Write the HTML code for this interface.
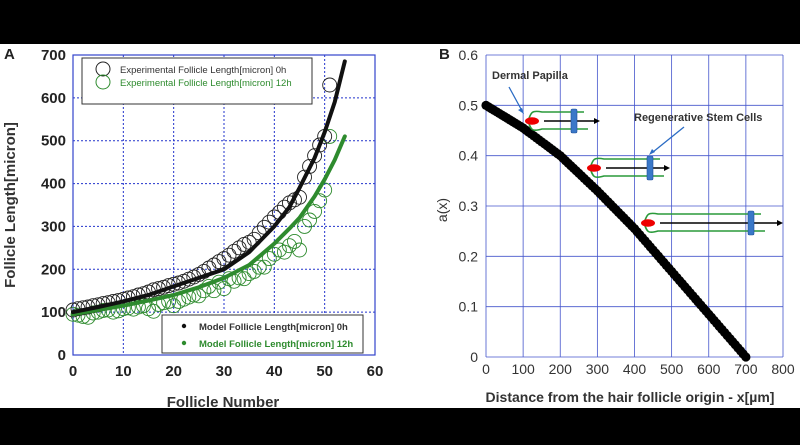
<!DOCTYPE html>
<html><head><meta charset="utf-8"><style>
html,body{margin:0;padding:0;background:#000;}
svg{display:block;font-family:"Liberation Sans",Arial,sans-serif;}
</style></head><body>
<svg id="fig" width="800" height="445" viewBox="0 0 800 445">
<rect x="0" y="0" width="800" height="445" fill="#000"/>
<rect x="0" y="44" width="800" height="364" fill="#fff"/>
<g id="A"></g>
<g id="B"></g>
</svg>
<script>
// Panel A data
const aXTicks=[0,10,20,30,40,50,60];
const aYTicks=[0,100,200,300,400,500,600,700];
const exp0X=[0,1,2,3,4,5,6,7,8,9,10,11,12,13,14,15,16,17,18,19,20,21,22,23,24,25,26,27,28,29,30,31,32,33,34,35,36,37,38,39,40,41,42,43,44,45,46,47,48,49,50,51];
const exp0Y=[105,108,110,112,115,117,120,122,125,127,130,133,136,140,143,147,152,155,158,162,165,168,172,177,182,188,195,203,210,218,225,233,242,250,258,263,270,285,298,310,322,333,345,355,362,368,415,440,465,490,510,630];
const exp12Y=[95,93,90,88,98,100,104,105,100,103,108,110,107,112,115,108,102,118,122,125,115,125,130,135,140,138,150,160,150,170,155,178,172,180,178,190,195,205,205,225,235,245,240,255,265,245,300,315,335,360,385,510];
const modelX=[0,5,10,15,20,25,30,35,40,43,45,48,50,52,54];
const model0Y=[100,112,125,140,160,180,200,240,300,345,390,460,520,590,685];
const model12Y=[95,105,115,127,140,158,180,210,260,295,320,370,410,455,510];
// Panel B data
const bXTicks=[0,100,200,300,400,500,600,700,800];
const bYTicks=[0,0.1,0.2,0.3,0.4,0.5,0.6];
const bX=[0,100,200,300,400,500,600,700];
const bY=[0.5,0.455,0.4,0.33,0.255,0.17,0.085,0];

const NS="http://www.w3.org/2000/svg";
function mk(parent,tag,attrs,text){const e=document.createElementNS(NS,tag);for(const k in attrs)e.setAttribute(k,attrs[k]);if(text!==undefined)e.textContent=text;parent.appendChild(e);return e;}

// ---- Panel A ----
const A=document.getElementById('A');
const ax=v=>73+v*(302/60), ay=v=>355-v*(300/700);
aXTicks.forEach(t=>{
  if(t>0&&t<60){const l=mk(A,'line',{x1:ax(t),x2:ax(t),y1:55,y2:355,stroke:'#2233cc','stroke-width':1,'stroke-dasharray':'2,2'});
  
  }
  const tx=mk(A,'text',{x:ax(t),y:376,'text-anchor':'middle','font-size':15,'font-weight':'bold',fill:'#222'},t);
  
  
});
aYTicks.forEach(t=>{
  if(t>0&&t<700){const l=mk(A,'line',{x1:73,x2:375,y1:ay(t),y2:ay(t),stroke:'#2233cc','stroke-width':1,'stroke-dasharray':'2,2'});
  
  }
  const tx=mk(A,'text',{x:66,y:ay(t)+5,'text-anchor':'end','font-size':15,'font-weight':'bold',fill:'#222'},t);
  
  
});
const fa=mk(A,'rect',{x:73,y:55,width:302,height:300,fill:'none',stroke:'#3344cc','stroke-width':1.2});


exp12Y.forEach((v,i)=>{const c=mk(A,'circle',{cx:ax(exp0X[i]),cy:ay(v),r:7,fill:'none',stroke:'#2e8b2e','stroke-width':0.9});

});
exp0Y.forEach((v,i)=>{const c=mk(A,'circle',{cx:ax(exp0X[i]),cy:ay(v),r:7,fill:'none',stroke:'#222','stroke-width':0.9});

});
function curve(ys,col,name){
  let d='';modelX.forEach((x,i)=>{d+=(i?'L':'M')+ax(x).toFixed(1)+','+ay(ys[i]).toFixed(1);});
  const p=mk(A,'path',{d:d,fill:'none',stroke:col,'stroke-width':4,'stroke-linejoin':'round','stroke-linecap':'round'});
  
  
}
curve(model12Y,'#2e8b2e','model-12h-curve');
curve(model0Y,'#111','model-0h-curve');
// legends
const lg1=mk(A,'g',{});


mk(lg1,'rect',{x:82,y:58,width:230,height:46,fill:'#fff',stroke:'#333','stroke-width':1});
mk(lg1,'circle',{cx:103,cy:69,r:7,fill:'none',stroke:'#222'});
mk(lg1,'circle',{cx:103,cy:82,r:7,fill:'none',stroke:'#2e8b2e'});
mk(lg1,'text',{x:120,y:73,'font-size':9.5,fill:'#333'},'Experimental Follicle Length[micron] 0h');
mk(lg1,'text',{x:120,y:86,'font-size':9.5,fill:'#2e8b2e'},'Experimental Follicle Length[micron] 12h');
const lg2=mk(A,'g',{});


mk(lg2,'rect',{x:162,y:315,width:201,height:38,fill:'#fff',stroke:'#333','stroke-width':1});
mk(lg2,'circle',{cx:184,cy:326,r:2.2,fill:'#111'});
mk(lg2,'circle',{cx:184,cy:343,r:2.2,fill:'#2e8b2e'});
mk(lg2,'text',{x:199,y:330,'font-size':9.5,'font-weight':'bold',fill:'#333'},'Model Follicle Length[micron] 0h');
mk(lg2,'text',{x:199,y:347,'font-size':9.5,'font-weight':'bold',fill:'#2e8b2e'},'Model Follicle Length[micron] 12h');
let t;
t=mk(A,'text',{x:4,y:59,'font-size':15,'font-weight':'bold',fill:'#222'},'A');

t=mk(A,'text',{x:223,y:407,'text-anchor':'middle','font-size':15,'font-weight':'bold',fill:'#333'},'Follicle Number');

t=mk(A,'text',{x:0,y:0,'text-anchor':'middle','font-size':15,'font-weight':'bold',fill:'#333',transform:'translate(15,205) rotate(-90)'},'Follicle Length[micron]');


// ---- Panel B ----
const B=document.getElementById('B');
const bx=v=>486+v*(297/800), by=v=>357-v*(302/0.6);
bXTicks.forEach(v=>{
  const l=mk(B,'line',{x1:bx(v),x2:bx(v),y1:55,y2:357,stroke:'#4455cc','stroke-width':0.8});
  
  const tx=mk(B,'text',{x:bx(v),y:374,'text-anchor':'middle','font-size':14,fill:'#333'},v);
  
});
bYTicks.forEach(v=>{
  const l=mk(B,'line',{x1:486,x2:783,y1:by(v),y2:by(v),stroke:'#4455cc','stroke-width':0.8});
  
  const tx=mk(B,'text',{x:478,y:by(v)+5,'text-anchor':'end','font-size':14,fill:'#333'},v===0?'0':v.toFixed(1));
  
});
// curve markers
for(let i=0;i<bX.length-1;i++){
  for(let k=0;k<14;k++){const f=k/14;
    const c=mk(B,'circle',{cx:bx(bX[i]+(bX[i+1]-bX[i])*f),cy:by(bY[i]+(bY[i+1]-bY[i])*f),r:4.6,fill:'#000'});
    }
}
{const c=mk(B,'circle',{cx:bx(bX[bX.length-1]),cy:by(bY[bY.length-1]),r:4.6,fill:'#000'});
}
// illustrations: ellipse center, rect x, arrow end
function follicle(ex,y0,rx,aend,name){
  const g=mk(B,'g',{});
  
  const x0=ex-4;
  mk(g,'path',{d:`M${x0},${y0} C${x0+3},${y0-9} ${x0+4},${y0-11} ${x0+14},${y0-9} L${rx+10},${y0-9}`,fill:'none',stroke:'#2a9a3a','stroke-width':1.6});
  mk(g,'path',{d:`M${x0},${y0} C${x0+3},${y0+9} ${x0+4},${y0+11} ${x0+14},${y0+8} L${rx+14},${y0+8}`,fill:'none',stroke:'#2a9a3a','stroke-width':1.6});
  mk(g,'line',{x1:ex+12,y1:y0,x2:aend-5,y2:y0,stroke:'#000','stroke-width':1.4});
  mk(g,'path',{d:`M${aend},${y0} l-6,-3 v6 z`,fill:'#000'});
  mk(g,'ellipse',{cx:ex,cy:y0,rx:7,ry:3.8,fill:'#e00'});
  mk(g,'rect',{x:rx-3,y:y0-12,width:6,height:24,rx:1.5,fill:'#3a78c8',stroke:'#1e4f99','stroke-width':0.6});
}
follicle(532,121,574,600,'follicle-diagram-1');
follicle(594,168,650,670,'follicle-diagram-2');
follicle(648,223,751,783,'follicle-diagram-3');
mk(B,'line',{x1:509,y1:87,x2:521,y2:109,stroke:'#2b6cc4','stroke-width':1.3});
mk(B,'path',{d:'M524,114 l-6,-4 l4,-2 z',fill:'#2b6cc4'});
mk(B,'line',{x1:684,y1:127,x2:653,y2:152,stroke:'#2b6cc4','stroke-width':1.3});
mk(B,'path',{d:'M649,155 l3,-6 l3,3 z',fill:'#2b6cc4'});
t=mk(B,'text',{x:492,y:79,'font-size':11,'font-weight':'bold',fill:'#333'},'Dermal Papilla');

t=mk(B,'text',{x:634,y:121,'font-size':11,'font-weight':'bold',fill:'#333'},'Regenerative Stem Cells');

t=mk(B,'text',{x:439,y:59,'font-size':15,'font-weight':'bold',fill:'#222'},'B');

t=mk(B,'text',{x:630,y:402,'text-anchor':'middle','font-size':14,'font-weight':'bold',fill:'#333'},'Distance from the hair follicle origin - x[\u00b5m]');

t=mk(B,'text',{x:0,y:0,'text-anchor':'middle','font-size':14,fill:'#333',transform:'translate(447,210) rotate(-90)'},'a(x)');

</script>
</body></html>
